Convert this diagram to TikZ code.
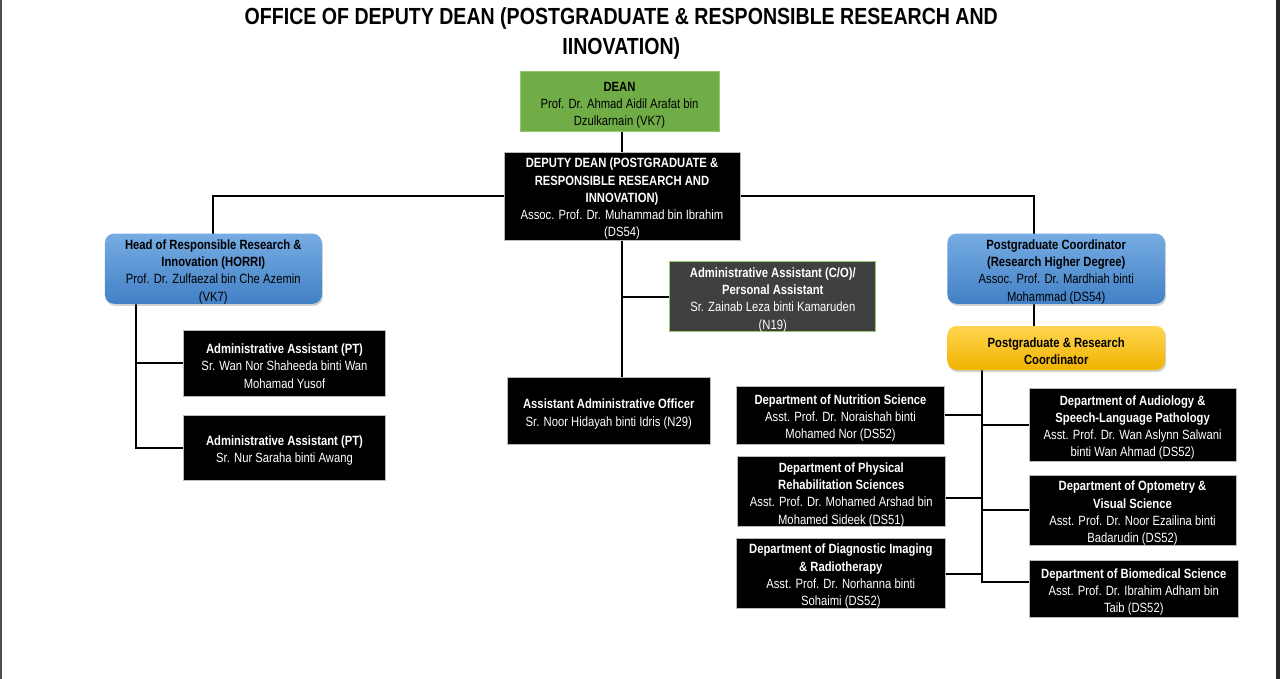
\documentclass[tikz,border=0pt]{standalone}
\usepackage{fontspec}
\setmainfont{Liberation Sans}[FakeStretch=0.84]
\usetikzlibrary{shadows,backgrounds}
\definecolor{deangreen}{RGB}{112,173,71}
\definecolor{deanedge}{RGB}{150,200,110}
\definecolor{blueTop}{RGB}{118,172,226}
\definecolor{blueBot}{RGB}{66,128,198}
\definecolor{goldTop}{RGB}{255,212,80}
\definecolor{goldBot}{RGB}{240,180,0}
\definecolor{coGray}{RGB}{64,64,64}
\newcommand\topstrut{\rule{0pt}{15.5pt}}
\begin{document}
\begin{tikzpicture}[x=1pt,y=-1pt,
  every node/.style={inner sep=0pt, outer sep=0pt, align=center},
  sz/.style 2 args={minimum width=#1, minimum height=#2},
  txt/.style={font=\fontsize{13.4}{17.3}\selectfont},
  bx/.style={txt, draw=gray!55, line width=0.6pt, fill=black, text=white},
  deanbox/.style={txt, draw=deanedge, line width=1pt, fill=deangreen, text=black},
  cobox/.style={txt, draw=deanedge, line width=1pt, fill=coGray, text=white},
  rbox/.style={txt, rounded corners=9pt, text=black,
     drop shadow={opacity=0.35, shadow xshift=1.2pt, shadow yshift=-2pt}},
  bluebox/.style={rbox, top color=blueTop, bottom color=blueBot},
  goldbox/.style={rbox, top color=goldTop, bottom color=goldBot},
  conn/.style={line width=2pt, black},
  titlestyle/.style={font=\fontsize{23.3}{30}\selectfont\bfseries, text=black}
]
\useasboundingbox (0,0) rectangle (1280,679);

\node[titlestyle] (title) at (621.3,33) {OFFICE OF DEPUTY DEAN (POSTGRADUATE \& RESPONSIBLE RESEARCH AND\\IINOVATION)};

\node[deanbox, sz={199pt}{60pt}] (dean) at (619.5,102) {\topstrut\textbf{DEAN}\\Prof. Dr. Ahmad Aidil Arafat bin\\Dzulkarnain (VK7)};

\node[bx, sz={236pt}{88pt}] (deputy) at (622,196) {\topstrut\textbf{DEPUTY DEAN (POSTGRADUATE \&}\\\textbf{RESPONSIBLE RESEARCH AND}\\\textbf{INNOVATION)}\\Assoc. Prof. Dr. Muhammad bin Ibrahim\\(DS54)};

\node[bluebox, sz={216.7pt}{69.5pt}] (horri) at (213.3,268.7) {\topstrut\textbf{Head of Responsible Research \&}\\\textbf{Innovation (HORRI)}\\Prof. Dr. Zulfaezal bin Che Azemin\\(VK7)};

\node[bx, sz={202.4pt}{66.7pt}] (pt1) at (284.5,363.3) {\topstrut\textbf{Administrative Assistant (PT)}\\Sr. Wan Nor Shaheeda binti Wan\\Mohamad Yusof};

\node[bx, sz={202.4pt}{65.7pt}] (pt2) at (284.5,447.8) {\topstrut\textbf{Administrative Assistant (PT)}\\Sr. Nur Saraha binti Awang};

\node[cobox, sz={205.7pt}{68.3pt}] (co) at (772.8,296.8) {\topstrut\textbf{Administrative Assistant (C/O)/}\\\textbf{Personal Assistant}\\Sr. Zainab Leza binti Kamaruden\\(N19)};

\node[bx, sz={202.3pt}{66.6pt}] (aao) at (608.8,411) {\topstrut\textbf{Assistant Administrative Officer}\\Sr. Noor Hidayah binti Idris (N29)};

\node[bluebox, sz={217.5pt}{69.3pt}] (pgc) at (1056.2,268.7) {\topstrut\textbf{Postgraduate Coordinator}\\\textbf{(Research Higher Degree)}\\Assoc. Prof. Dr. Mardhiah binti\\Mohammad (DS54)};

\node[goldbox, sz={217.5pt}{44pt}] (pgrc) at (1056.2,348) {\topstrut\textbf{Postgraduate \& Research}\\\textbf{Coordinator}};

\node[bx, sz={208.4pt}{58pt}] (nut) at (840.5,415) {\topstrut\textbf{Department of Nutrition Science}\\Asst. Prof. Dr. Noraishah binti\\Mohamed Nor (DS52)};

\node[bx, sz={208.7pt}{68pt}] (phy) at (841.3,491.7) {\topstrut\textbf{Department of Physical}\\\textbf{Rehabilitation Sciences}\\Asst. Prof. Dr. Mohamed Arshad bin\\Mohamed Sideek (DS51)};

\node[bx, sz={209.7pt}{68.4pt}] (dia) at (840.8,573.5) {\topstrut\textbf{Department of Diagnostic Imaging}\\\textbf{\& Radiotherapy}\\Asst. Prof. Dr. Norhanna binti\\Sohaimi (DS52)};

\node[bx, sz={206.8pt}{72.7pt}] (aud) at (1132.6,424.6) {\topstrut\textbf{Department of Audiology \&}\\\textbf{Speech-Language Pathology}\\Asst. Prof. Dr. Wan Aslynn Salwani\\binti Wan Ahmad (DS52)};

\node[bx, sz={207pt}{70.7pt}] (opt) at (1132.5,510.3) {\topstrut\textbf{Department of Optometry \&}\\\textbf{Visual Science}\\Asst. Prof. Dr. Noor Ezailina binti\\Badarudin (DS52)};

\node[bx, sz={209.6pt}{57pt}] (bio) at (1133.8,589.2) {\topstrut\textbf{Department of Biomedical Science}\\Asst. Prof. Dr. Ibrahim Adham bin\\Taib (DS52)};

\coordinate (jl) at (213.3,196);
\coordinate (jr) at (1034,196);
\coordinate (hx) at (135.7,303.5);
\coordinate (px) at (981.8,370);
\coordinate (bioin) at ([yshift=7.5pt]bio.west);
\coordinate (phyin) at ([yshift=-6.6pt]phy.east);

\begin{pgfonlayer}{background}
  \fill[white] (0,0) rectangle (1280,679);
  \fill[gray!60!black] (0,0) rectangle (1.5,679);
  \fill[black!85] (1276,0) rectangle (1280,679);
  \draw[conn] (dean.south -| deputy.north) -- (deputy.north);
  \draw[conn] (horri.north) -- (jl) -- (jr) -- (jr |- pgc.north);
  \draw[conn] (deputy.south) -- (deputy.south |- aao.north);
  \draw[conn] (deputy.south |- co.west) -- (co.west);
  \draw[conn] (hx) |- (pt2.west);
  \draw[conn] (hx |- pt1.west) -- (pt1.west);
  \draw[conn] (jr |- pgc.south) -- (jr |- pgrc.north);
  \draw[conn] (px) |- (bioin);
  \draw[conn] (px |- nut.east) -- (nut.east);
  \draw[conn] (px |- phyin) -- (phyin);
  \draw[conn] (px |- dia.east) -- (dia.east);
  \draw[conn] (px |- aud.west) -- (aud.west);
  \draw[conn] (px |- opt.west) -- (opt.west);
\end{pgfonlayer}
\end{tikzpicture}
\end{document}
